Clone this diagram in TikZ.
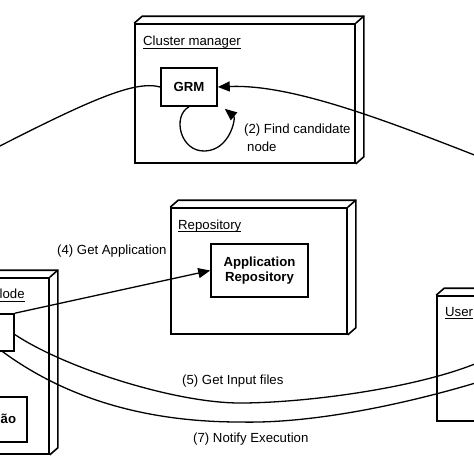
\documentclass[tikz,border=0pt]{standalone}
\usepackage{fontspec}
\setmainfont{Liberation Sans}
\usetikzlibrary{arrows.meta,positioning,calc}

% underlined caption of a deployment node
\newcommand{\ulbl}[1]{\setbox0\hbox{#1}\rlap{\rule[-3.3pt]{\wd0}{1.1pt}}\box0}
% top and side faces of a deployment node
\newcommand{\depthlines}[1]{%
  \draw[edge] (#1.north west) -- ++(8,-7) -- ([shift={(8,-7)}]#1.north east)
    -- ([shift={(8,-7)}]#1.south east) -- (#1.south east);
  \draw[edge] (#1.north east) -- ++(8,-7);}

\begin{document}
\begin{tikzpicture}[x=1pt, y=-1pt,
    font=\fontsize{13.2}{17.5}\selectfont,
    edge/.style={line width=1.6pt},
    cube/.style={draw, edge, inner sep=0pt},
    part/.style={draw, edge, inner sep=0pt, font=\fontsize{13.2}{15.5}\selectfont\bfseries, align=center},
    lbl/.style={inner sep=0pt, anchor=base west},
    msg/.style={line width=1.3pt},
    arr/.style={msg, -{Triangle[length=12pt, width=10pt]}}
]
\useasboundingbox (0,0) rectangle (474,474);
\fill[white] (0,0) rectangle (474,474);
\clip (0,0) rectangle (474,474);

% deployment nodes
\node[cube, minimum width=220pt, minimum height=139pt] (cluster) at (245,93.5) {};
\depthlines{cluster}
\node[cube, minimum width=176pt, minimum height=126pt] (repo) at (259,271) {};
\depthlines{repo}
\node[cube, minimum width=199pt, minimum height=176pt] (worker) at (-50.5,366) {};
\depthlines{worker}
\node[cube, minimum width=143pt, minimum height=125pt] (user) at (508.5,358.5) {};
\depthlines{user}

\node[lbl] (clusterlbl) at (143,45.5) {\ulbl{Cluster manager}};
\node[lbl] (repolbl) at (178,229) {\ulbl{Repository}};
\node[lbl] (workerlbl) at (-0.5,298.5) {\ulbl{lode}};
\node[lbl] (userlbl) at (445,316) {\ulbl{User}};

% components
\node[part, minimum width=56pt, minimum height=38pt] (grm) at (189,87) {GRM};
\node[part, minimum width=97pt, minimum height=53pt] (apprep) at (259.5,270.5) {Application\\Repository};
\node[part, minimum width=60pt, minimum height=37pt] (lrm) at (-16,332.5) {};
\node[part, minimum width=87pt, minimum height=45pt] (task) at (-16.5,419.5) {};
\node[lbl, font=\fontsize{13.2}{15.5}\selectfont\bfseries] (tasklbl) at (0.5,423) {ão};

% messages
\coordinate (westend) at (-6,149);
\coordinate (eastend) at (482,158);
\coordinate (inputend) at (482,361);
\coordinate (notifyend) at (482,381);

\draw[msg] (grm.west) .. controls (135,80) and (90,100) .. (westend);
\draw[arr] (eastend) .. controls (380,118) and (290,84) .. (grm.east);
\draw[arr] (grm.south) .. controls (172,116) and (180,152) .. (205,151)
  .. controls (230,150) and (236,118) .. ([xshift=7pt,yshift=-2pt]grm.south east);
\draw[arr] (lrm.north east) -- (apprep.west);
\draw[msg] ([yshift=-2pt]lrm.east) .. controls (65,368) and (175,403) .. (240,403)
  .. controls (305,403) and (420,388) .. (inputend);
\draw[msg] ([xshift=-12pt]lrm.south east) .. controls (55,390) and (130,422) .. (240,422)
  .. controls (320,424) and (420,400) .. (notifyend);

\node[inner sep=0pt, anchor=west, align=left] (findlbl) at (244,138) {(2) Find candidate\\\hspace{3pt}node};
\node[lbl] (getapplbl) at (57,254) {(4) Get Application};
\node[lbl] (inputlbl) at (182,384) {(5) Get Input files};
\node[lbl] (notifylbl) at (193,442) {(7) Notify Execution};
\end{tikzpicture}
\end{document}
